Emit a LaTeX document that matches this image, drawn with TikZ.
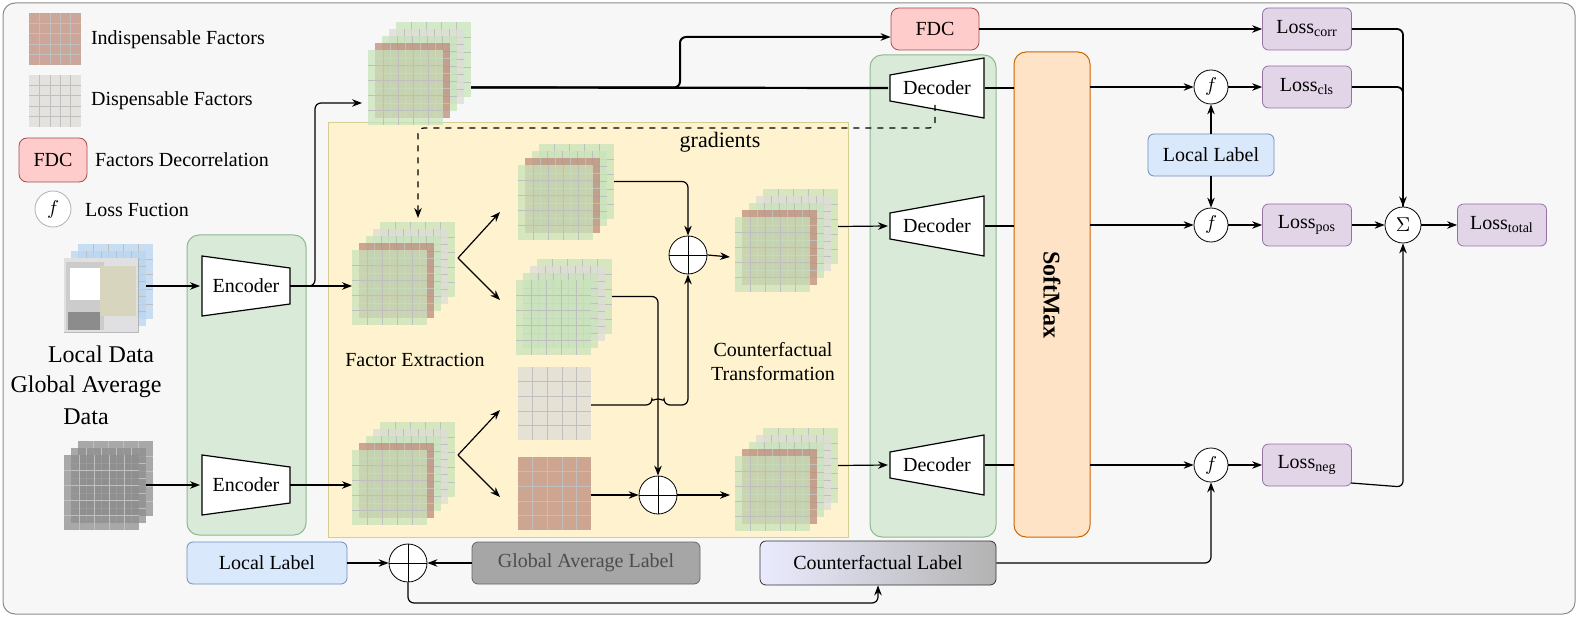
\documentclass[tikz,border=0pt]{standalone}
\usepackage{fontspec}
\setmainfont{Liberation Serif}
\usetikzlibrary{arrows.meta}
\usetikzlibrary{positioning}
\usetikzlibrary{calc}
\definecolor{gfill}{HTML}{C9E4BC}
\definecolor{rfill}{HTML}{BF8B7C}
\definecolor{efill}{HTML}{DEDCD8}
\definecolor{bfill}{HTML}{B9D5F0}
\definecolor{kfill}{HTML}{8E8E8E}
\tikzset{
	panel/.style={draw, rounded corners=6pt, line width=0.5pt},
	lossbox/.style={draw={rgb,255:red,150;green,115;blue,166}, fill={rgb,255:red,225;green,213;blue,231}, rounded corners=3pt, minimum width=44.5, minimum height=21, inner sep=0pt},
	labelbox/.style={draw={rgb,255:red,108;green,142;blue,191}, fill={rgb,255:red,218;green,232;blue,252}, rounded corners=3pt, minimum height=21, inner sep=3pt},
	op/.style={circle, draw, fill=white, minimum size=17, inner sep=0pt},
	arrow/.style={draw, -{Stealth[length=5pt]}, line width=0.6pt, rounded corners=3pt},
	line/.style={draw, line width=0.6pt, rounded corners=3pt}
}
% one square of factors, top left corner at (#1,#2)
\newcommand{\fmap}[4]{%
	\fill[#4, fill opacity=0.75] (#1,#2) rectangle ++(#3,#3);
	\foreach \k in {1,...,4}{
		\draw[black!25, line width=0.3pt] ($(#1,#2)+(\k*#3/5,0)$) -- ++(0,#3);
		\draw[black!25, line width=0.3pt] ($(#1,#2)+(0,\k*#3/5)$) -- ++(#3,0);
	}}
% stack of squares, front square at (#2,#3), colours listed from the back
\newcommand{\fstack}[4]{%
	\foreach \c [count=\i] in {#4}{\xdef\nlay{\i}}
	\foreach \c [count=\i] in {#4}{
		\pgfmathsetmacro{\off}{7*(\nlay-\i)}
		\fmap{#2+\off}{#3-\off}{75}{\c}
	}
	\coordinate (#1) at (#2+37.5,#3+37.5);
	\coordinate (#1-e) at (#2+75+7*\nlay-7,#3+37.5);
	\coordinate (#1-ne) at (#2+75+7*\nlay-7,#3+44.5-7*\nlay);
	}
% encoder / decoder
\newcommand{\enc}[3]{\draw[fill=white, line width=0.6pt] (#2-44,#3-30) -- (#2+44,#3-18) -- (#2+44,#3+18) -- (#2-44,#3+30) -- cycle;
	\node[minimum width=44, minimum height=10, inner sep=0pt] (#1) at (#2,#3) {Encoder};}
\newcommand{\dec}[3]{\draw[fill=white, line width=0.6pt] (#2-47,#3-13) -- (#2+47,#3-30) -- (#2+47,#3+30) -- (#2-47,#3+13) -- cycle;
	\node[minimum width=47, minimum height=10, inner sep=0pt] (#1) at (#2,#3) {Decoder};}
\newcommand{\addop}[3]{\node[op, minimum size=19] (#1) at (#2,#3) {};
	\draw (#1.north) -- (#1.south) (#1.west) -- (#1.east);}

\begin{document}
\begin{tikzpicture}[x=0.5pt, y=-0.5pt, font=\fontsize{10}{12}\selectfont]
\useasboundingbox (0,0) rectangle (1578,620);
\draw[panel, fill=black!3, draw=black!45] (3,3) rectangle (1575,614);

% legend
\fmap{29}{13}{52}{rfill}
\node[anchor=west] at (84,40) {Indispensable Factors};
\fmap{29}{75}{52}{efill}
\node[anchor=west] at (84,101) {Dispensable Factors};
\node[draw=red!50!black!70, fill=red!20, rounded corners=4pt, minimum width=34, minimum height=22] (fdcleg) at (53,160) {FDC};
\node[anchor=west] at (88,160) {Factors Decorrelation};
\node[op, draw=black!30, minimum size=18] (fleg) at (53,209) {$f$};
\node[anchor=west] at (78,210) {Loss Fuction};

% panels
\draw[panel, fill=green!45!black!15, draw=green!40!black!45] (187,235) rectangle (306,535);
\draw[panel, rounded corners=0pt, fill=yellow!55!orange!18, draw=yellow!60!black!50] (328,123) rectangle (848,537);
\draw[panel, fill=green!45!black!15, draw=green!40!black!45] (870,55) rectangle (996,537);
\draw[panel, fill=orange!22, draw=orange!80!black] (1014,52) rectangle (1090,537);
\node[rotate=-90, font=\fontsize{12}{14}\selectfont\bfseries] at (1052,295) {SoftMax};

% inputs
\fstack{truck}{64}{258}{bfill,bfill,black!35}
\fill[blue!10!black!12] (64,258) rectangle ++(74,74);
\fill[black!20] (66,262) rectangle (104,330);
\fill[white] (70,268) rectangle (100,300);
\fill[yellow!40!black!30] (100,266) rectangle (136,316);
\fill[black!45] (68,312) rectangle (100,330);
\node[font=\fontsize{12}{14}\selectfont] at (101,354) {Local Data};
\node[font=\fontsize{12}{14}\selectfont, align=center] at (86,400) {Global Average\\[2pt]Data};
\fstack{avg}{64}{455}{kfill,kfill,kfill}

% encoders and decoders
\enc{enc1}{246}{286}
\enc{enc2}{246}{485}
\dec{dec1}{937}{88}
\dec{dec2}{937}{226}
\dec{dec3}{937}{465}

% feature maps
\fstack{top}{368}{50}{gfill,efill,gfill,rfill,gfill}
\fstack{fx1}{352}{250}{gfill,efill,gfill,rfill,gfill}
\fstack{fx2}{352}{450}{gfill,efill,gfill,rfill,gfill}
\fstack{ind1}{518}{165}{gfill,gfill,rfill,gfill}
\fstack{dis1}{516}{280}{gfill,efill,gfill,gfill}
\fmap{518}{367}{73}{efill}\coordinate (dis2) at (591,405);
\fmap{518}{457}{73}{rfill}\coordinate (ind2) at (591,495);
\fstack{cf1}{735}{217}{gfill,efill,gfill,rfill,gfill}
\fstack{cf2}{735}{456}{gfill,efill,gfill,rfill,gfill}

\node at (415,360) {Factor Extraction};
\node[align=center] at (773,362) {Counterfactual\\Transformation};
\node[font=\fontsize{11}{13}\selectfont] at (720,142) {gradients};

\addop{add1}{688}{255}
\addop{add2}{658}{495}

% boxes
\node[draw=red!50!black!70, fill=red!20, rounded corners=4pt, minimum width=44, minimum height=21] (fdc) at (935,29) {FDC};
\node[lossbox] (lcorr) at (1307,29) {Loss\textsubscript{corr}};
\node[lossbox] (lcls) at (1307,87) {Loss\textsubscript{cls}};
\node[lossbox] (lpos) at (1307,225) {Loss\textsubscript{pos}};
\node[lossbox] (lneg) at (1307,465) {Loss\textsubscript{neg}};
\node[lossbox] (ltot) at (1502,225) {Loss\textsubscript{total}};
\node[op] (f1) at (1211,87) {$f$};
\node[op] (f2) at (1211,225) {$f$};
\node[op] (f3) at (1211,465) {$f$};
\node[op, minimum size=18] (sum) at (1403,225) {$\Sigma$};
\node[labelbox, minimum width=63] (llab) at (1211,155) {Local Label};
\node[labelbox, minimum width=80] (llab2) at (267,563) {Local Label};
\node[draw=black!60, fill=black!35, text=black!70, rounded corners=3pt, minimum width=114, minimum height=21] (glab) at (586,563) {Global Average Label};
\node[draw=black!80, left color=blue!8, right color=black!30, rounded corners=3pt, minimum width=118, minimum height=22] (clab) at (878,563) {Counterfactual Label};
\addop{add3}{408}{563}
\coordinate (negout) at (1351,483);
\coordinate (negbend) at (1403,487);
\coordinate (cfin1) at (888,226);
\coordinate (cfin2) at (888,465);

% connectors
\draw[arrow] (146,286) -- (enc1.west -| 200,0);
\draw[arrow] (146,485) -- (enc2.west -| 200,0);
\draw[arrow] (290,286) -- (352,286);
\draw[arrow] (290,485) -- (352,485);
\draw[arrow] (290,286) -- (315,286) |- (362,103);
\draw[line, line width=1.1pt] (top-e) -- (888,88);
\draw[arrow, line width=1pt] (top-e) -| (680,37) -- (fdc.west |- 0,37);
\draw[arrow, dashed] (935,105) |- (418,128) -- (418,218);
\draw[arrow] (458,258) -- (500,212);
\draw[arrow] (458,258) -- (500,300);
\draw[arrow] (458,455) -- (500,410);
\draw[arrow] (458,455) -- (500,497);
\draw[arrow] (ind1-ne) -| (add1.north);
\draw[arrow] (dis1-ne) -| (add2.north);
\draw[arrow] (dis2) -- (652,405) arc (180:360:6) -| (add1.south);
\draw[arrow] (ind2) -- (add2.west);
\draw[arrow] (add1.east) -- (730,257);
\draw[arrow] (add2.east) -- (730,495);
\draw[arrow] (cf1-ne) -- (cfin1);
\draw[arrow] (cf2-ne) -- (cfin2);
\draw[line] (985,88) -- (1014,88);
\draw[line] (985,226) -- (1014,226);
\draw[line] (985,465) -- (1014,465);
\draw[arrow] (1090,87) -- (f1.west);
\draw[arrow] (1090,225) -- (f2.west);
\draw[arrow] (1090,465) -- (f3.west);
\draw[arrow] (llab.north) -- (f1.south);
\draw[arrow] (llab.south) -- (f2.north);
\draw[arrow] (f1.east) -- (lcls.west);
\draw[arrow] (f2.east) -- (lpos.west);
\draw[arrow] (f3.east) -- (lneg.west);
\draw[arrow] (fdc.east) -- (lcorr.west);
\draw[arrow, line width=0.9pt] (lcorr.east) -| (sum.north);
\draw[line, line width=0.9pt] (lcls.east) -| (sum.north);
\draw[arrow] (lpos.east) -- (sum.west);
\draw[arrow] (negout) -- (negbend) -- (sum.south);
\draw[arrow] (sum.east) -- (ltot.west);
\draw[arrow] (llab2.east) -- (add3.west);
\draw[arrow] (glab.west) -- (add3.east);
\draw[arrow] (add3.south) |- (878,603) -- (clab.south);
\draw[arrow] (clab.east) -| (f3.south);
\end{tikzpicture}
\end{document}
